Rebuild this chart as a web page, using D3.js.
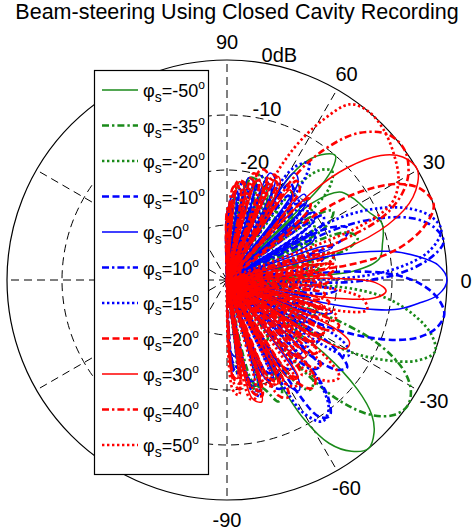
<!DOCTYPE html>
<html>
<head>
<meta charset="utf-8">
<script src="https://cdn.jsdelivr.net/npm/d3@7"></script>
<style>
  body { margin: 0; background: #fff; }
  svg { font-family: "Liberation Sans", Arial, sans-serif; }
</style>
</head>
<body>
<svg id="svg_beam" width="474" height="531"></svg>
<script>
const title = 'Beam-steering Using Closed Cavity Recording'

const steerAngles = [-50, -35, -20, -10, 0, 10, 15, 20, 30, 40, 50]
const seriesColors = ['green', 'green', 'green', 'blue', 'blue', 'blue', 'blue', 'red', 'red', 'red', 'red']
const seriesStyles = ['solid', 'dashdot', 'dotted', 'dashed', 'solid', 'dashdot', 'dotted', 'dashed', 'solid', 'dashdot', 'dotted']

const angleTicks = [90, 60, 30, 0, -30, -60, -90]
const ringTicks = [-30, -20, -10]
const ringLabels = ['0dB', '-10', '-20', '-30']
const ringLabelValues = [0, -10, -20, -30]

// beam patterns: [azimuth in degrees, level in dB]
const pattern_m50 = [
  [-90, -40], [-87, -27], [-84, -26], [-81, -40], [-78, -21], [-74, -20], [-70, -40],
  [-66, -40], [-63, -20], [-61, -11], [-58, -5], [-54, -1.5], [-50, 0], [-46, -1.5], [-43, -4], [-40, -9], [-37, -18], [-35, -40],
  [-32, -25], [-28, -24], [-25, -40], [-22, -23], [-18, -23], [-15, -40], [-12, -27], [-8, -26], [-5, -40],
  [-3, -30], [0, -29], [2, -40],
  [4, -17], [8, -12], [13, -11], [20, -10], [26, -11.5], [33, -12.7], [38, -14], [42, -19], [44, -40],
  [45, -16], [47, -11.5], [49, -10], [53, -11.5], [57, -15], [60, -22], [61, -40],
  [64, -23], [68, -22], [71, -40], [74, -21], [78, -21], [81, -40], [84, -25], [87, -26], [90, -40]
]
const pattern_m35 = [
  [-90, -40], [-86, -24], [-82, -23], [-79, -40], [-76, -21], [-71, -19], [-67, -16], [-63, -18], [-60, -40],
  [-58, -27], [-55, -27], [-53, -40],
  [-50, -19], [-47, -10], [-43, -4], [-39, -1], [-35, 0], [-31, -1], [-27, -4], [-23, -10], [-20, -19], [-18, -40],
  [-15, -26], [-11, -25], [-8, -40], [-5, -28], [-1, -27], [2, -40], [5, -24], [9, -23], [12, -40],
  [14, -18], [18, -15], [22, -17], [25, -40], [28, -20], [33, -17], [37, -21], [40, -40],
  [43, -24], [47, -23], [50, -40], [53, -25], [57, -24], [60, -40], [63, -22], [67, -21], [70, -40],
  [73, -22], [77, -21], [80, -40], [83, -25], [87, -26], [90, -40]
]
const pattern_m20 = [
  [-90, -40], [-87, -25], [-84, -24], [-81, -40], [-78, -21], [-74, -19], [-71, -40], [-68, -22], [-64, -20], [-61, -40],
  [-57, -19], [-53, -15], [-49, -16], [-46, -22], [-44, -40], [-41, -24], [-37, -23], [-34, -40],
  [-31, -16], [-27, -8], [-23, -2.5], [-19, 0], [-15, -1.5], [-11, -5], [-7, -10], [-4, -17], [-2, -40],
  [1, -24], [5, -23], [8, -40], [10, -21], [14, -20], [17, -40], [20, -24], [24, -23], [27, -40],
  [30, -22], [34, -21], [37, -40], [39, -22], [42, -15], [46, -12.5], [50, -14], [54, -21], [56, -40],
  [59, -24], [63, -23], [66, -40], [69, -21], [73, -20], [76, -40], [79, -23], [83, -22], [86, -40],
  [87, -28], [89, -28], [90, -40]
]
const pattern_m10 = [
  [-90, -40], [-86, -24], [-83, -23], [-80, -40], [-77, -20], [-73, -19], [-70, -40], [-67, -22], [-63, -21], [-60, -40],
  [-58, -16], [-56, -10], [-53, -9], [-50, -11], [-47, -16], [-45, -40],
  [-42, -19], [-39, -14], [-36, -13], [-33, -16], [-30, -23], [-28, -40],
  [-25, -20], [-21, -10], [-17, -4], [-13, -1], [-9, 0], [-5, -1.5], [-1, -5], [2, -10], [4, -18], [6, -40],
  [9, -24], [13, -22], [16, -40], [19, -18], [23, -16], [27, -19], [30, -40], [33, -23], [37, -22], [40, -40],
  [43, -22], [47, -21], [50, -40], [53, -20], [57, -19], [60, -40], [63, -22], [67, -21], [70, -40],
  [73, -24], [77, -23], [80, -40], [83, -24], [87, -25], [90, -40]
]
const pattern_0 = [
  [-90, -40], [-87, -27], [-84, -26], [-81, -40], [-79, -22], [-75, -21], [-72, -40], [-69, -21], [-65, -20], [-62, -40],
  [-60, -18], [-57, -16], [-54, -18], [-51, -40], [-48, -22], [-44, -21], [-41, -40], [-38, -24], [-34, -23], [-31, -40],
  [-28, -25], [-24, -24], [-21, -40], [-19, -21], [-17, -20], [-15, -40],
  [-13, -20], [-10, -9], [-7, -5], [-4, -1.5], [0, 0], [4, -1.5], [7, -5], [10, -10], [13, -20], [15, -40],
  [17, -20], [19, -21], [21, -40], [24, -23], [28, -22], [31, -40], [34, -21], [38, -20], [41, -40],
  [44, -20], [48, -19], [51, -40], [54, -18], [58, -17], [61, -40], [64, -20], [68, -19], [71, -40],
  [74, -22], [78, -21], [81, -40], [84, -25], [87, -25], [90, -40]
]
const pattern_10 = [
  [-90, -40], [-86, -25], [-83, -24], [-80, -40], [-77, -21], [-73, -20], [-70, -40], [-67, -19], [-63, -18], [-60, -40],
  [-57, -21], [-53, -20], [-50, -40], [-47, -18], [-43, -17], [-40, -40], [-37, -21], [-33, -20], [-30, -40],
  [-27, -23], [-23, -22], [-20, -40], [-17, -25], [-13, -24], [-10, -40], [-8, -22], [-5, -20], [-3, -40],
  [-1, -18], [2, -9], [6, -3], [10, 0], [14, -1], [18, -4], [22, -10], [25, -18], [27, -40],
  [30, -20], [34, -19], [37, -40], [40, -21], [44, -20], [47, -40], [50, -22], [54, -21], [57, -40],
  [60, -22], [64, -21], [67, -40], [70, -23], [74, -22], [77, -40], [80, -24], [84, -24], [87, -40],
  [88, -29], [89.5, -29], [90, -40]
]
const pattern_15 = [
  [-90, -40], [-87, -24], [-84, -23], [-81, -40], [-78, -20], [-74, -18], [-71, -40], [-69, -21], [-66, -20], [-64, -40],
  [-62, -18], [-60, -12], [-56, -9], [-52, -10], [-49, -13], [-46, -20], [-44, -40],
  [-42, -22], [-39, -21], [-36, -40], [-34, -18], [-32, -14], [-29, -15], [-26, -21], [-24, -40],
  [-21, -24], [-17, -23], [-14, -40], [-11, -25], [-7, -24], [-4, -40],
  [1, -18], [4, -9], [8, -3], [13, 0], [17, -1], [21, -4], [25, -9], [29, -17], [31, -40],
  [34, -21], [38, -20], [41, -40], [43, -21], [47, -20], [50, -40],
  [52, -18], [55, -14], [59, -16], [62, -22], [64, -40],
  [67, -21], [71, -20], [74, -40], [77, -23], [81, -22], [84, -40], [86, -26], [89, -27], [90, -40]
]
const pattern_20 = [
  [-90, -40], [-86, -22], [-83, -21], [-80, -40], [-77, -19], [-73, -18], [-70, -40], [-67, -21], [-63, -19], [-60, -40],
  [-56, -18], [-52, -15], [-48, -16], [-45, -40], [-42, -20], [-38, -19], [-35, -40], [-32, -21], [-28, -20], [-25, -40],
  [-22, -22], [-18, -21], [-15, -40], [-12, -23], [-8, -22], [-5, -40], [-2, -22], [2, -21], [4, -40],
  [7, -18], [10, -9], [15, -3], [20, 0], [25, -1], [29, -4], [33, -10], [36, -18], [38, -40],
  [41, -20], [45, -19], [48, -40], [51, -19], [55, -18], [58, -40], [61, -21], [64, -20], [66, -40],
  [68, -21], [70, -19], [73, -19], [75, -23], [77, -40], [80, -22], [84, -22], [87, -40],
  [88, -27], [89.5, -27], [90, -40]
]
const pattern_30 = [
  [-90, -40], [-87, -23], [-84, -22], [-81, -40], [-78, -18], [-74, -17], [-71, -40], [-68, -20], [-64, -19], [-61, -40],
  [-58, -19], [-54, -18], [-51, -40], [-48, -21], [-44, -20], [-41, -40], [-38, -22], [-35, -21], [-34, -40],
  [-32, -19], [-30, -15], [-27, -15], [-24, -19], [-22, -40], [-19, -23], [-15, -22], [-12, -40],
  [-10, -22], [-7, -13], [-4, -11], [-1, -13], [1, -22], [3, -40], [6, -22], [9, -21], [12, -40],
  [15, -18], [19, -9], [24, -3], [30, 0], [35, -1], [39, -4], [43, -10], [46, -18], [48, -40],
  [51, -21], [55, -20], [58, -40], [61, -20], [64, -19], [67, -40], [69, -22], [73, -21], [76, -40],
  [79, -23], [83, -22], [86, -40], [87, -27], [89, -27], [90, -40]
]
const pattern_40 = [
  [-90, -40], [-86, -21], [-83, -20], [-80, -40], [-77, -20], [-73, -19], [-70, -40], [-66, -17], [-62, -16], [-59, -40],
  [-56, -19], [-52, -18], [-49, -40], [-46, -18], [-42, -17], [-39, -40], [-36, -21], [-32, -20], [-29, -40],
  [-26, -19], [-22, -18], [-19, -40], [-16, -22], [-12, -21], [-9, -40], [-6, -24], [-2, -23], [1, -40],
  [4, -21], [8, -20], [11, -40], [13, -22], [15, -22], [16, -40],
  [19, -18], [23, -8], [29, -2.5], [36, 0], [42, -0.5], [48, -4], [53, -10], [57, -18], [60, -40],
  [63, -20], [66, -19], [69, -40], [72, -21], [76, -20], [79, -40], [82, -23], [86, -23], [90, -40]
]
const pattern_50 = [
  [-90, -40], [-87, -20], [-84, -19], [-81, -40], [-79, -18], [-76, -18], [-73, -40], [-70, -20], [-66, -19], [-63, -40],
  [-60, -18], [-56, -17], [-53, -40], [-49, -18], [-45, -14], [-41, -13], [-38, -17], [-35, -40],
  [-32, -21], [-28, -20], [-25, -40], [-22, -20], [-18, -19], [-16, -40],
  [-15, -18], [-12, -14], [-8, -15], [-5, -20], [-3, -40], [0, -24], [4, -23], [7, -40], [10, -21], [14, -20], [17, -40],
  [22, -14], [25, -7], [30, -4], [37, -2], [44, -0.5], [50, 0], [55, -1], [59, -6], [63, -13], [66, -22], [68, -40],
  [71, -22], [75, -21], [78, -40], [81, -23], [85, -24], [90, -40]
]

const patterns = [pattern_m50, pattern_m35, pattern_m20, pattern_m10, pattern_0, pattern_10,
  pattern_15, pattern_20, pattern_30, pattern_40, pattern_50]

const colorMap = { green: '#1a8a1a', blue: '#0000ff', red: '#ff0000' }
const dashMap = { solid: null, dashed: '7 3.5', dotted: '2.4 2.6', dashdot: '7 3 2.4 3' }
const widthMap = { solid: 1.5, dashed: 2.6, dotted: 2.7, dashdot: 2.6 }

const cx = 227
const cy = 280
const R = 220

const svg = d3.select('#svg_beam')

const rScale = d3.scaleLinear()
  .domain([-40, 0])
  .range([0, R])
  .clamp(true)

const toRad = deg => (90 - deg) * Math.PI / 180
const px = (deg, r) => Math.cos(deg * Math.PI / 180) * r
const py = (deg, r) => -Math.sin(deg * Math.PI / 180) * r

svg.append('text')
  .text(title)
  .attr('x', 237)
  .attr('y', 19)
  .attr('text-anchor', 'middle')
  .attr('font-size', 21.5)

const plot = svg.append('g')
  .attr('transform', `translate(${cx}, ${cy})`)

// grid
const grid = plot.append('g')
  .attr('fill', 'none')
  .attr('stroke', '#000')

grid.selectAll('.ring')
  .data(ringTicks)
  .enter()
  .append('circle')
  .attr('r', d => rScale(d))
  .attr('stroke-width', 1)
  .attr('stroke-dasharray', '8 5')

grid.selectAll('.spoke')
  .data(d3.range(0, 360, 30))
  .enter()
  .append('line')
  .attr('x1', 0)
  .attr('y1', 0)
  .attr('x2', d => px(d, R))
  .attr('y2', d => py(d, R))
  .attr('stroke-width', 1)
  .attr('stroke-dasharray', '8 5')

grid.append('circle')
  .attr('r', R)
  .attr('stroke-width', 1.2)

plot.selectAll('.angleLabel')
  .data(angleTicks)
  .enter()
  .append('text')
  .text(d => d)
  .attr('x', d => px(d, R + 19))
  .attr('y', d => py(d, R + 19) + 1)
  .attr('text-anchor', 'middle')
  .attr('dominant-baseline', 'central')
  .attr('font-size', 20)

plot.selectAll('.ringLabel')
  .data(ringLabelValues)
  .enter()
  .append('text')
  .text((d, i) => ringLabels[i])
  .attr('x', d => px(77, rScale(d) + 13))
  .attr('y', d => py(77, rScale(d) + 13) + 2)
  .attr('text-anchor', 'middle')
  .attr('dominant-baseline', 'central')
  .attr('font-size', 20)

// beam patterns
const radialLine = d3.lineRadial()
  .angle(d => toRad(d[0]))
  .radius(d => rScale(d[1]))
  .curve(d3.curveCatmullRom.alpha(0.5))

plot.append('g')
  .selectAll('path')
  .data(patterns)
  .enter()
  .append('path')
  .attr('d', d => radialLine(d))
  .attr('fill', 'none')
  .attr('stroke', (d, i) => colorMap[seriesColors[i]])
  .attr('stroke-width', (d, i) => widthMap[seriesStyles[i]])
  .attr('stroke-dasharray', (d, i) => dashMap[seriesStyles[i]])
  .attr('stroke-linejoin', 'round')

// legend
const legend = svg.append('g')

legend.append('rect')
  .attr('x', 94.5)
  .attr('y', 70.5)
  .attr('width', 114)
  .attr('height', 404)
  .attr('fill', '#fff')
  .attr('stroke', '#000')
  .attr('stroke-width', 1.2)

const rows = legend.selectAll('.row')
  .data(steerAngles)
  .enter()
  .append('g')
  .attr('transform', (d, i) => `translate(0, ${90 + i * 35.5})`)

rows.append('line')
  .attr('x1', 102)
  .attr('x2', 138)
  .attr('stroke', (d, i) => colorMap[seriesColors[i]])
  .attr('stroke-width', (d, i) => widthMap[seriesStyles[i]])
  .attr('stroke-dasharray', (d, i) => dashMap[seriesStyles[i]])

const label = rows.append('text')
  .attr('x', 143)
  .attr('y', 7)
  .attr('font-size', 18)

label.append('tspan').text('φ')
label.append('tspan').text('s').attr('font-size', 14).attr('dy', 5)
label.append('tspan').text(d => '=' + d).attr('dy', -5)
label.append('tspan').text('o').attr('font-size', 12).attr('dy', -8)
</script>
</body>
</html>
